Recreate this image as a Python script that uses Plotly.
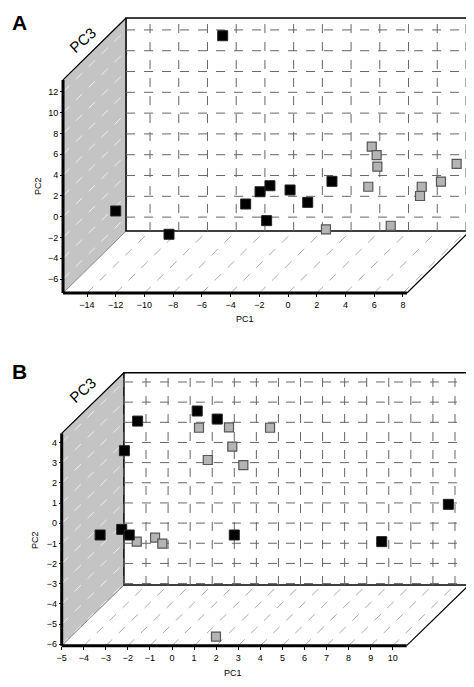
import plotly.graph_objects as go

OFF = 8  # page body margin
W, H = 474 - OFF, 687 - OFF

# ---------- data (front-plane projected coordinates) ----------
A_black_pc1 = [-4.55, -12.0, -8.29, -2.95, -1.95, -1.26, 0.14, -1.49, 1.37, 3.06]
A_black_pc2 = [17.4, 0.55, -1.69, 1.22, 2.40, 2.98, 2.57, -0.38, 1.38, 3.40]
A_grey_pc1 = [5.83, 6.17, 6.22, 5.59, 2.64, 7.15, 9.31, 9.19, 10.65, 11.74]
A_grey_pc2 = [6.73, 5.93, 4.81, 2.88, -1.21, -0.87, 2.88, 1.99, 3.37, 5.07]
A_xticks = list(range(-14, 9, 2))
A_yticks = list(range(-6, 13, 2))

B_black_pc1 = [-3.26, -2.28, -1.94, -2.16, -1.56, 1.14, 2.05, 2.82, 9.50, 12.52]
B_black_pc2 = [-0.58, -0.30, -0.58, 3.60, 5.07, 5.57, 5.17, -0.58, -0.91, 0.94]
B_grey_pc1 = [-1.60, -0.77, -0.44, 1.22, 2.58, 4.44, 2.73, 1.62, 3.23, 1.99]
B_grey_pc2 = [-0.91, -0.71, -1.01, 4.74, 4.76, 4.74, 3.80, 3.14, 2.89, -5.62]
B_xticks = list(range(-5, 11, 1))
B_yticks = list(range(-6, 5, 1))

# ---------- box geometry (data units) ----------
boxA = dict(L=-15.67, R=8.28, B=-7.34, T=13.15, dx=4.39, dy=5.96)
boxB = dict(L=-5.0, R=10.63, B=-6.07, T=4.46, dx=2.82, dy=3.01)

fig = go.Figure()

def add_panel(n, bx, by, gx, gy):
    xa, ya = ("x", "y") if n == 1 else ("x2", "y2")
    fig.add_trace(go.Scatter(x=gx, y=gy, mode="markers", xaxis=xa, yaxis=ya,
                             marker=dict(symbol="square", size=9, color="#b4b4b4",
                                         line=dict(color="#555555", width=1.2)),
                             showlegend=False, hoverinfo="skip"))
    fig.add_trace(go.Scatter(x=bx, y=by, mode="markers", xaxis=xa, yaxis=ya,
                             marker=dict(symbol="square", size=10, color="black",
                                         line=dict(color="#222", width=1)),
                             showlegend=False, hoverinfo="skip"))

add_panel(1, A_black_pc1, A_black_pc2, A_grey_pc1, A_grey_pc2)
add_panel(2, B_black_pc1, B_black_pc2, B_grey_pc1, B_grey_pc2)

shapes = []
def decor(box, xt, yt, xr, yr):
    L, R, B, T, dx, dy = box["L"], box["R"], box["B"], box["T"], box["dx"], box["dy"]
    base = dict(xref=xr, yref=yr, layer="below")
    shapes.append(dict(type="path", path=f"M {L},{B} L {L},{T} L {L+dx},{T+dy} L {L+dx},{B+dy} Z",
                       fillcolor="#c4c4c4", line=dict(color="#888", width=1), **base))
    shapes.append(dict(type="rect", x0=L+dx, x1=R+dx, y0=B+dy, y1=T+dy,
                       fillcolor="white", line=dict(color="black", width=1.5), **base))
    dash = dict(color="#666", width=1, dash="dash")
    for t in xt:
        shapes.append(dict(type="line", x0=t+dx, x1=t+dx, y0=B+dy, y1=T+dy, line=dash, **base))
        shapes.append(dict(type="line", x0=t, x1=t+dx, y0=B, y1=B+dy,
                           line=dict(color="#aaa", width=1, dash="dash"), **base))
    for t in yt:
        shapes.append(dict(type="line", x0=L+dx, x1=R+dx, y0=t+dy, y1=t+dy, line=dash, **base))
        shapes.append(dict(type="line", x0=L, x1=L+dx, y0=t, y1=t+dy,
                           line=dict(color="#eee", width=1, dash="dash"), **base))
    solid = dict(color="black", width=1.2)
    shapes.append(dict(type="line", x0=R, x1=R+dx, y0=B, y1=B+dy, line=solid, **base))
    shapes.append(dict(type="line", x0=L, x1=L+dx, y0=T, y1=T+dy, line=solid, **base))
    shapes.append(dict(type="line", x0=L, x1=R, y0=B, y1=B, line=dict(color="black", width=3), **base))
    shapes.append(dict(type="line", x0=L, x1=L, y0=B, y1=T, line=dict(color="black", width=3), **base))

decor(boxA, A_xticks, A_yticks, "x", "y")
decor(boxB, B_xticks, B_yticks, "x2", "y2")

def fx(px):
    return (px - OFF) / W

def fy(px):
    return 1 - (px - OFF) / H

tickfont = dict(family="Arial, Liberation Sans", size=9, color="black")
ax_common = dict(showgrid=False, zeroline=False, showline=False, ticks="outside",
                 ticklen=3, tickcolor="black", tickfont=tickfont, anchor="free")

def xr(px0, v0, ppu):
    return [v0 - (px0 - OFF) / ppu, v0 + (474 - px0) / ppu]

def yr(py0, ppu, top_px, bot_px):
    return [(py0 - bot_px) / ppu, (py0 - top_px) / ppu]

fig.update_layout(
    width=W, height=H, margin=dict(l=0, r=0, t=0, b=0),
    paper_bgcolor="white", plot_bgcolor="rgba(0,0,0,0)", shapes=shapes,
    xaxis=dict(domain=[0, 1], range=xr(87, -14, 14.36), tickvals=A_xticks,
               position=fy(293), **ax_common),
    yaxis=dict(domain=[fy(328), 1], range=yr(216.7, 10.4, OFF, 328), tickvals=A_yticks,
               position=fx(63), **ax_common),
    xaxis2=dict(domain=[0, 1], range=xr(61.7, -5, 22.07), tickvals=B_xticks,
                position=fy(645.7), **ax_common),
    yaxis2=dict(domain=[0, fy(340)], range=yr(523.3, 20.16, 340, 687), tickvals=B_yticks,
                position=fx(61.7), **ax_common),
)

ann = []
def a(x, y, text, size, angle=0, bold=False):
    ann.append(dict(x=fx(x), y=fy(y), xref="paper", yref="paper",
                    xanchor="center", yanchor="middle",
                    text=f"<b>{text}</b>" if bold else text,
                    showarrow=False, textangle=angle,
                    font=dict(family="Arial, Liberation Sans", size=size, color="black")))
a(19, 22, "A", 21, bold=True)
a(19, 371, "B", 21, bold=True)
a(82, 40, "PC3", 15, -42)
a(82, 390, "PC3", 15, -42)
a(245, 319, "PC1", 9)
a(38, 186, "PC2", 9, -90)
a(233, 673, "PC1", 9)
a(35, 540, "PC2", 9, -90)
fig.update_layout(annotations=ann)

fig.write_html("out.html")
